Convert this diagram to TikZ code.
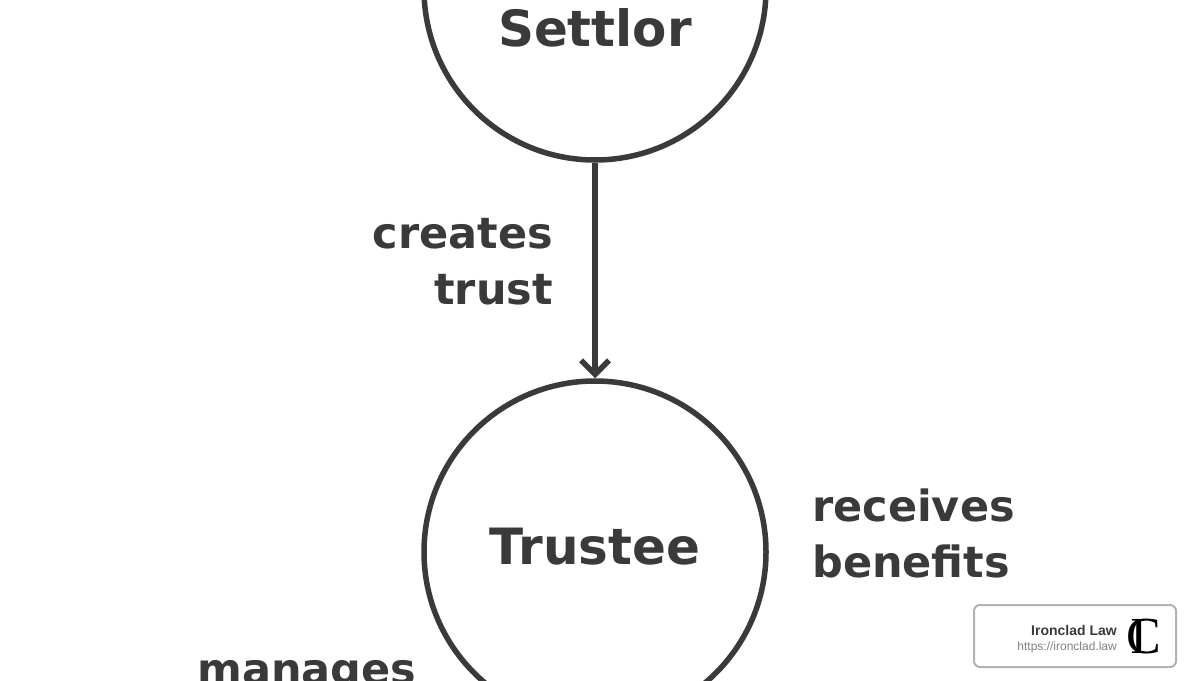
\documentclass[tikz,border=0pt]{standalone}
\usepackage{fontspec}
\setmainfont{DejaVu Sans}
\newfontfamily\lblfont{DejaVu Sans Bold}
\newfontfamily\smallfont{Liberation Sans}
\newfontfamily\logofont{Liberation Serif}
\usetikzlibrary{arrows.meta}
\definecolor{ink}{HTML}{3A3A3A}
\begin{document}
\begin{tikzpicture}[x=1pt,y=-1pt,
  circ/.style={draw=ink,line width=5.5pt,circle,minimum size=342pt,inner sep=0pt},
  big/.style={text=ink,font=\lblfont\fontsize{50}{50}\selectfont},
  lab/.style={text=ink,font=\lblfont\fontsize{43}{56}\selectfont,inner sep=0pt}]
\clip (0,0) rectangle (1190,680);
\fill[white] (0,0) rectangle (1190,680);
\node[circ] (s) at (595,-11) {};
\node[big] (st) at (595,28) {Settlor};
\node[circ] (t) at (595,552) {};
\node[big] (tt) at (595,547) {Trustee};
\draw[ink,line width=5.5pt,-{Straight Barb[length=14pt,width=28pt]}] (s.south) -- (t.north);
\node[lab,align=right,anchor=east] (ct) at (553,262) {creates\\trust};
\node[lab,align=left,anchor=west] (rb) at (812,533) {receives\\benefits};
\node[lab,anchor=west] (mg) at (197,677) {manages};
\node[draw=gray!60,line width=2pt,rounded corners=6pt,fill=white,minimum width=202pt,minimum height=62pt] (box) at (1075,636) {};
\node[anchor=east,font=\smallfont\fontsize{14}{14}\selectfont\bfseries,text=ink,inner sep=0pt] (n1) at (1117,630) {Ironclad Law};
\node[anchor=east,font=\smallfont\fontsize{12}{12}\selectfont,text=gray,inner sep=0pt] (n2) at (1117,647) {https://ironclad.law};
\node[font=\logofont\fontsize{52}{52}\selectfont,inner sep=0pt] (lg) at (1146,637) {C\kern-30pt I\kern18pt};
\end{tikzpicture}
\end{document}
